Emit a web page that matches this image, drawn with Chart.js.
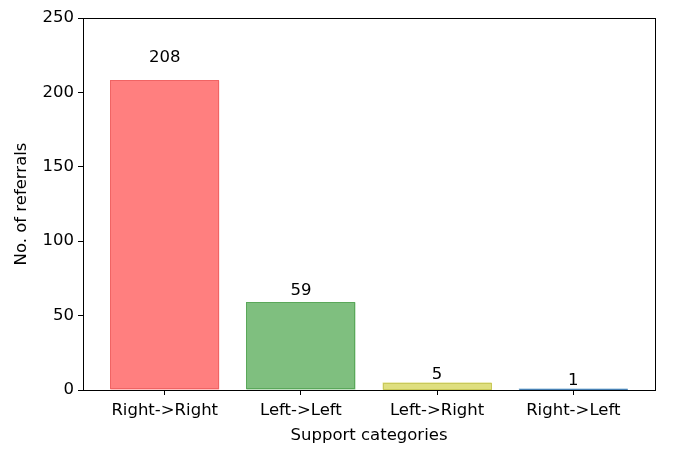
<!DOCTYPE html>
<html>
<head>
<meta charset="utf-8">
<script src="https://cdn.jsdelivr.net/npm/chart.js@4"></script>
<style>
html,body{margin:0;padding:0;background:#fff;}
#wrap{width:675px;height:457px;}
</style>
</head>
<body>
<div id="wrap"><canvas id="c" width="675" height="457"></canvas></div>
<script>
const categories = ["Right->Right", "Left->Left", "Left->Right", "Right->Left"];
const referrals = [208, 59, 5, 1];
const yTicks = [0, 50, 100, 150, 200, 250];
const barColors = ["#ff7f7f", "#7fbf7f", "#dfdf7f", "#8fbbd9"];
const edgeColors = ["#f06464", "#5aa85a", "#c9c95a", "#4a82b5"];

const FONT = "'DejaVu Sans', sans-serif";
const FS = 16.5;

const framePlugin = {
  id: 'frame',
  afterDatasetsDraw(chart) {
    const {ctx, chartArea: a} = chart;
    ctx.save();
    // bar edges, from the library's own bar elements
    const meta = chart.getDatasetMeta(0);
    ctx.lineWidth = 1;
    meta.data.forEach((el, i) => {
      const p = el.getProps(['x', 'y', 'base', 'width'], true);
      ctx.strokeStyle = edgeColors[i];
      ctx.strokeRect(Math.round(p.x - p.width / 2) + 0.5, Math.round(p.y) + 0.5,
                     Math.round(p.width) - 1, Math.max(0, Math.round(p.base - p.y) - 1));
    });
    ctx.strokeStyle = '#000';
    ctx.strokeRect(Math.round(a.left) + 0.5, Math.round(a.top) + 0.5, Math.round(a.right - a.left), Math.round(a.bottom - a.top));
    ctx.restore();
  }
};

const labelPlugin = {
  id: 'valueLabels',
  afterDatasetsDraw(chart) {
    const {ctx} = chart;
    const xs = chart.scales.x, ys = chart.scales.y;
    ctx.save();
    ctx.font = FS + "px " + FONT;
    ctx.fillStyle = '#000';
    ctx.textAlign = 'center';
    ctx.textBaseline = 'bottom';
    referrals.forEach((v, i) => {
      ctx.fillText(String(v), xs.getPixelForValue(i), ys.getPixelForValue(v * 1.05) + 1);
    });
    ctx.restore();
  }
};

new Chart(document.getElementById('c'), {
  type: 'bar',
  data: {
    datasets: [{
      data: referrals.map((v, i) => ({x: i, y: v})),
      backgroundColor: barColors,
      borderWidth: 0,
      barPercentage: 0.8,
      categoryPercentage: 1.0
    }]
  },
  options: {
    responsive: false,
    animation: false,
    devicePixelRatio: 1,
    layout: {padding: {top: 18, right: 20, left: 0, bottom: 0}},
    plugins: {legend: {display: false}, tooltip: {enabled: false}},
    scales: {
      x: {
        type: 'linear',
        offset: false,
        min: -0.6,
        max: 3.6,
        afterBuildTicks(scale) { scale.ticks = categories.map((c, i) => ({value: i})); },
        afterFit(scale) { scale.height = 67; },
        ticks: {
          callback: (v) => categories[v],
          color: '#000',
          font: {family: FONT, size: FS},
          padding: 6,
          maxRotation: 0,
          autoSkip: false
        },
        grid: {offset: false, drawOnChartArea: false, drawTicks: true, tickLength: 5, tickColor: '#000', color: '#000'},
        border: {display: false},
        title: {display: true, text: 'Support categories', color: '#000', font: {family: FONT, size: FS}, padding: {top: 0, bottom: 11}}
      },
      y: {
        type: 'linear',
        min: 0,
        max: 250,
        afterBuildTicks(scale) { scale.ticks = yTicks.map(v => ({value: v})); },
        afterFit(scale) { scale.width = 83; },
        ticks: {
          color: '#000',
          font: {family: FONT, size: FS},
          padding: 4
        },
        grid: {drawOnChartArea: false, drawTicks: true, tickLength: 5, tickColor: '#000', color: '#000'},
        border: {display: false},
        title: {display: true, text: 'No. of referrals', color: '#000', font: {family: FONT, size: FS}, padding: {top: 12, bottom: 4}}
      }
    }
  },
  plugins: [framePlugin, labelPlugin]
});
</script>
</body>
</html>
